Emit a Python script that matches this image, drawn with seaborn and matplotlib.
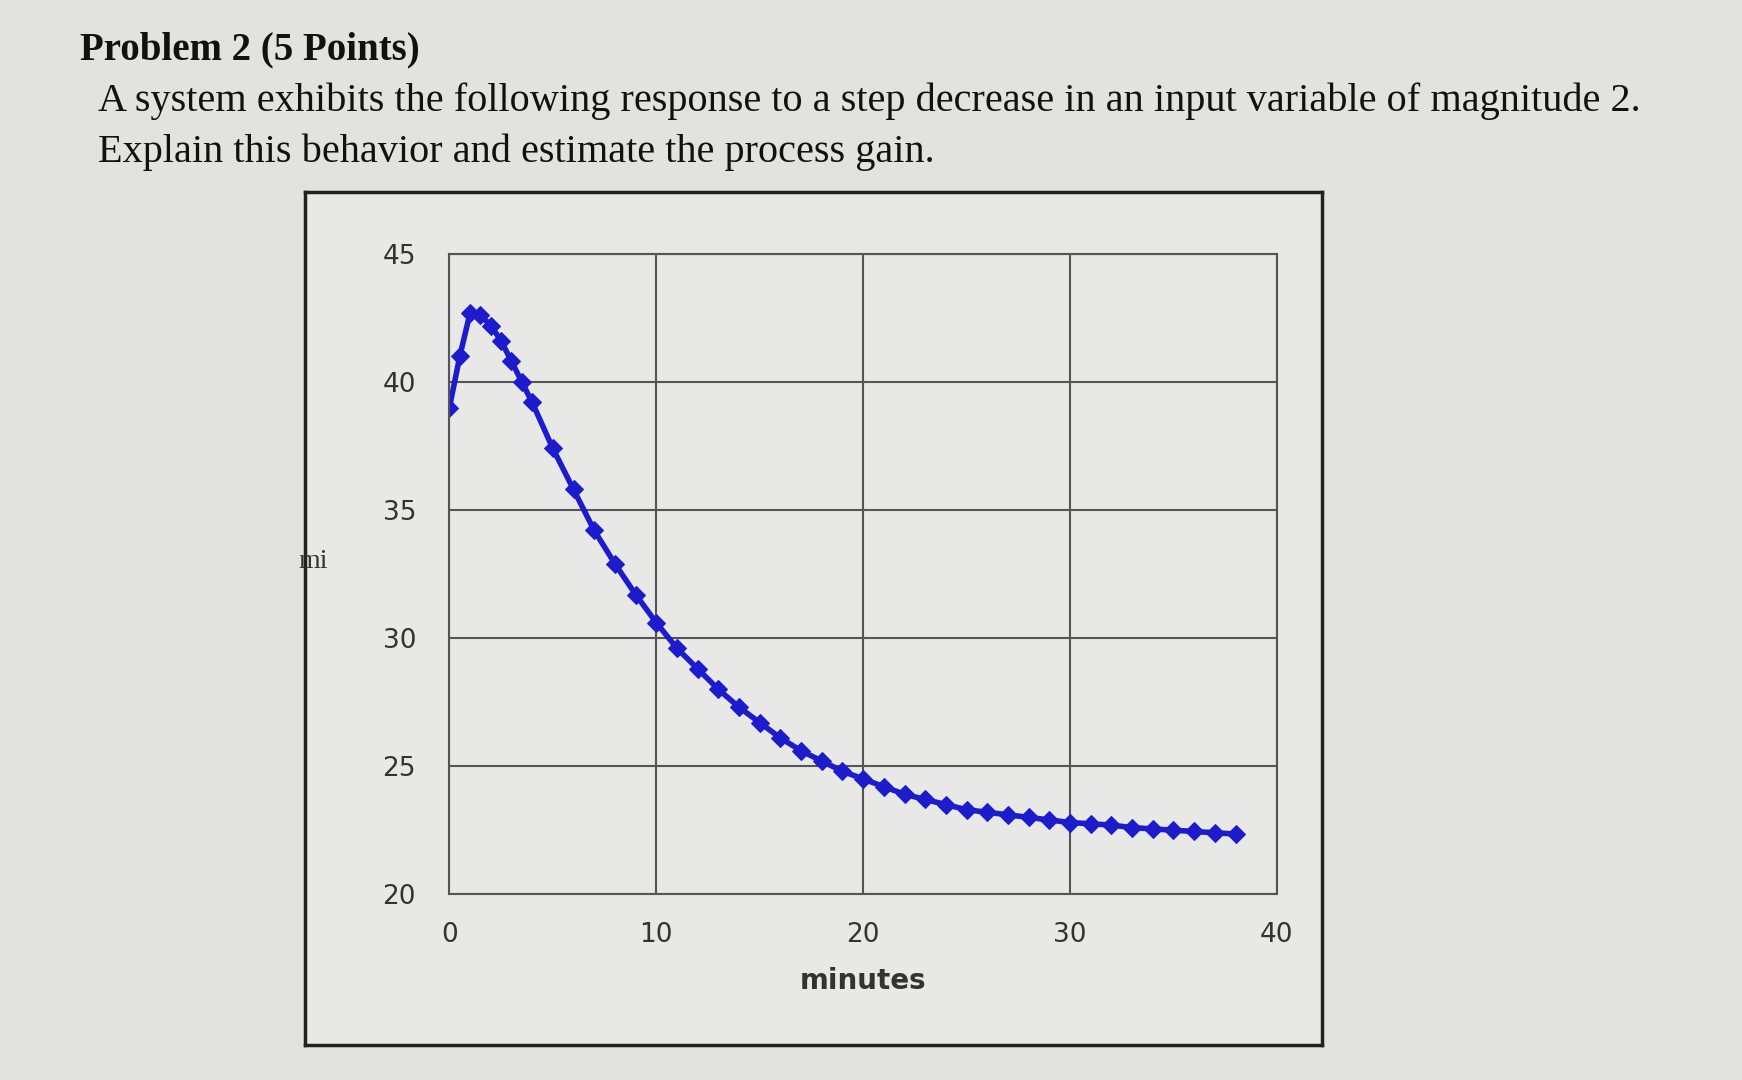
import matplotlib
matplotlib.use("Agg")
import matplotlib.pyplot as plt
import seaborn as sns
import pandas as pd
from matplotlib.patches import Rectangle

minutes = [0, 0.5, 1, 1.5, 2, 2.5, 3, 3.5, 4, 5, 6, 7, 8, 9, 10, 11, 12, 13, 14, 15, 16, 17, 18, 19,
           20, 21, 22, 23, 24, 25, 26, 27, 28, 29, 30, 31, 32, 33, 34, 35, 36, 37, 38]
response = [39.0, 41.0, 42.7, 42.6, 42.2, 41.6, 40.8, 40.0, 39.2, 37.4, 35.8, 34.2, 32.9, 31.7, 30.6,
            29.6, 28.8, 28.0, 27.3, 26.7, 26.1, 25.6, 25.2, 24.8, 24.5, 24.2, 23.9, 23.7, 23.5,
            23.3, 23.2, 23.1, 23.0, 22.9, 22.8, 22.75, 22.7, 22.6, 22.55, 22.5, 22.45, 22.4, 22.35]
yticks = [20, 25, 30, 35, 40, 45]
xticks = [0, 10, 20, 30, 40]

df = pd.DataFrame({"minutes": minutes, "mi": response})

sns.set_theme(style="white")
fig = plt.figure(figsize=(17.42, 10.8), dpi=100)
fig.patch.set_facecolor("#e2e2e0")

fig.text(0.046, 0.945, "Problem 2 (5 Points)", family="Liberation Serif", weight="bold", fontsize=28, color="#111")
fig.text(0.056, 0.897, "A system exhibits the following response to a step decrease in an input variable of magnitude 2.",
         family="Liberation Serif", fontsize=29, color="#111")
fig.text(0.056, 0.850, "Explain this behavior and estimate the process gain.",
         family="Liberation Serif", fontsize=29, color="#111")

bg = fig.add_axes([0.175, 0.032, 0.584, 0.790], zorder=0)
bg.set_facecolor("#e8e8e6")
bg.set_xticks([]); bg.set_yticks([])
for s in bg.spines.values():
    s.set_color("#222"); s.set_linewidth(2.5)

ax = fig.add_axes([0.258, 0.172, 0.475, 0.593], zorder=1)
ax.set_facecolor("#e8e8e6")
sns.lineplot(data=df, x="minutes", y="mi", ax=ax, color="#1c1ccc", linewidth=4,
             marker="D", markersize=9, markeredgecolor="#1c1ccc")
ax.set_xlim(0, 40)
ax.set_ylim(20, 45)
ax.set_xticks(xticks)
ax.set_yticks(yticks)
ax.grid(True, color="#555", linewidth=1.5)
for s in ax.spines.values():
    s.set_color("#555"); s.set_linewidth(1.5)
ax.tick_params(axis="y", labelsize=19, pad=18, labelcolor="#333")
ax.tick_params(axis="x", labelsize=19, pad=14, labelcolor="#333")
ax.set_xlabel("minutes", fontsize=20, weight="bold", color="#333", labelpad=14)
ax.set_ylabel("mi", fontsize=20, family="Liberation Serif", rotation=0, color="#333", labelpad=50)
fig.savefig("out.png", dpi=100, facecolor=fig.get_facecolor())
